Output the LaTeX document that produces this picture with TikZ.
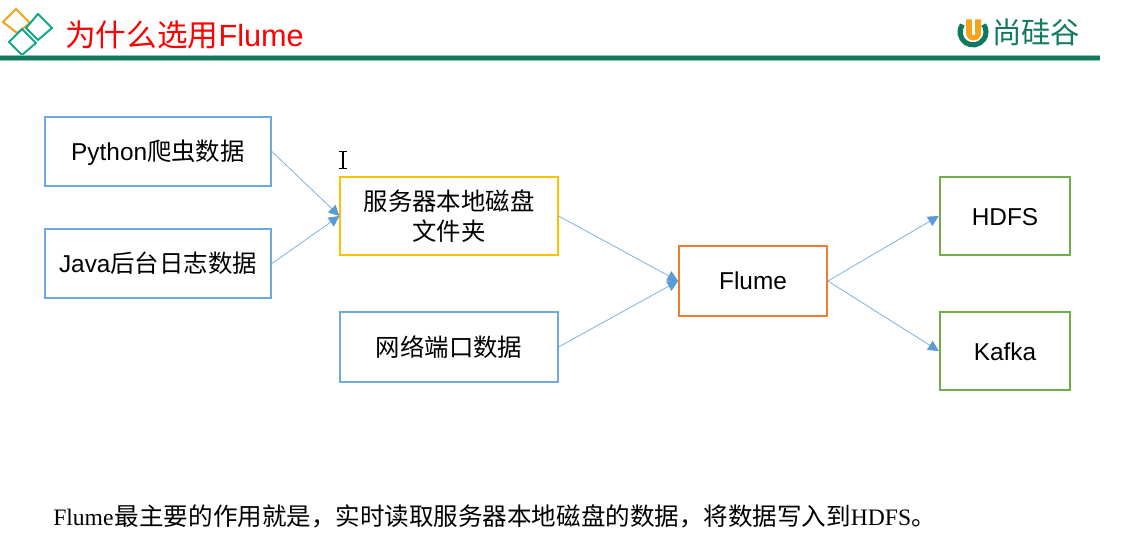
\documentclass[tikz,border=0pt]{standalone}
\usepackage{fontspec}
\setmainfont{Liberation Sans}
\newfontfamily\cjk{Noto Sans CJK SC}
\newfontfamily\serifl{Liberation Serif}
\usetikzlibrary{arrows.meta}
\newcommand{\lowtxt}[2]{\raisebox{-#1}[0pt][0pt]{#2}}
\definecolor{bluebox}{HTML}{6FA8DC}
\definecolor{tipblue}{HTML}{5B9BD5}
\definecolor{goldbox}{HTML}{FFC000}
\definecolor{orangebox}{HTML}{ED7D31}
\definecolor{greenbox}{HTML}{70AD47}
\definecolor{linkblue}{HTML}{7FB2E3}
\definecolor{tealg}{HTML}{0F7A5F}
\definecolor{teald}{HTML}{12A88A}
\definecolor{orangelogo}{HTML}{F5A31A}
\tikzset{
  box/.style={draw,line width=1.3pt,inner sep=0pt,font=\fontsize{18.3}{22}\selectfont},
  link/.style={draw=linkblue,line width=0.6pt,-{Triangle[length=8pt,width=8pt,fill=tipblue,color=tipblue]}},
  diam/.style={line width=1.5pt,line join=miter},
}
\begin{document}
\begin{tikzpicture}[x=0.75pt,y=-0.75pt]
\useasboundingbox (0,0) rectangle (1132,560);
\fill[white] (0,0) rectangle (1132,560);
% header
\draw[diam,draw=orangelogo] (16,9) -- (30,23) -- (17,33) -- (3,22) -- cycle;
\draw[diam,draw=teald] (38,14) -- (52,28) -- (38,40) -- (26,28) -- cycle;
\draw[diam,draw=teald] (22,29) -- (36,43) -- (22,55) -- (9,42) -- cycle;
\node[anchor=west,inner sep=0pt,text=red,font=\fontsize{23}{28}\selectfont] (title) at (65,35) {{\cjk 为什么选用}Flume};
\fill[tealg!45] (0,55) rectangle (1100,61);
\fill[tealg] (0,56.2) rectangle (1100,59.8);
% logo
\draw[tealg,line width=3.8pt] (962.35,24.5) arc[start angle=215,end angle=-35,radius=13];
\fill[orangelogo] (966,19.5) -- (981,19.5) -- (981,33) arc[start angle=0,end angle=180,radius=7.5] -- cycle;
\fill[white] (972,19.5) -- (975,19.5) -- (975,35) -- (972,35) -- cycle;
\node[anchor=west,inner sep=0pt,text=tealg,font=\cjk\fontsize{22}{26}\selectfont] (brand) at (992,32) {尚硅谷};
% boxes
\node[box,draw=bluebox,minimum width=169.5pt,minimum height=51.75pt] (py) at (158,151.5) {\lowtxt{6.4pt}{Python{\cjk 爬虫数据}}};
\node[box,draw=bluebox,minimum width=169.5pt,minimum height=51.75pt] (java) at (158,263.5) {\lowtxt{6.6pt}{Java{\cjk 后台日志数据}}};
\node[box,align=center,draw=goldbox,minimum width=163pt,minimum height=58pt,font=\cjk\fontsize{18.3}{22}\selectfont] (disk) at (449,216) {服务器本地磁盘\\文件夹};
\node[box,draw=bluebox,minimum width=163pt,minimum height=52pt,font=\cjk\fontsize{18.3}{22}\selectfont] (net) at (449,347) {\lowtxt{6.75pt}{网络端口数据}};
\node[box,draw=orangebox,minimum width=111pt,minimum height=52pt] (flume) at (753,281) {\lowtxt{6pt}{Flume}};
\node[box,draw=greenbox,minimum width=98pt,minimum height=58pt] (hdfs) at (1005,216) {\lowtxt{6.75pt}{HDFS}};
\node[box,draw=greenbox,minimum width=98pt,minimum height=58pt] (kafka) at (1005,351) {\lowtxt{6.75pt}{Kafka}};
% links
\draw[link] (py.east) -- (disk.west);
\draw[link] (java.east) -- (disk.west);
\draw[link] (disk.east) -- (flume.west);
\draw[link] (net.east) -- (flume.west);
\draw[link] (flume.east) -- (hdfs.west);
\draw[link] (flume.east) -- (kafka.west);
% text cursor
\draw[black,line width=0.8pt] (339,151.5) -- (347,151.5) (343,151.5) -- (343,168.5) (339,168.5) -- (347,168.5);
% caption
\node[anchor=west,inner sep=0pt,font=\fontsize{18.4}{22}\selectfont] (cap) at (53,516) {{\serifl\fontsize{17.7}{22}\selectfont Flume}\hspace{1pt}{\cjk 最主要的作用就是，实时读取服务器本地磁盘的数据，将数据写入到}{\serifl\fontsize{17.7}{22}\selectfont HDFS}{\cjk 。}};
\end{tikzpicture}
\end{document}
